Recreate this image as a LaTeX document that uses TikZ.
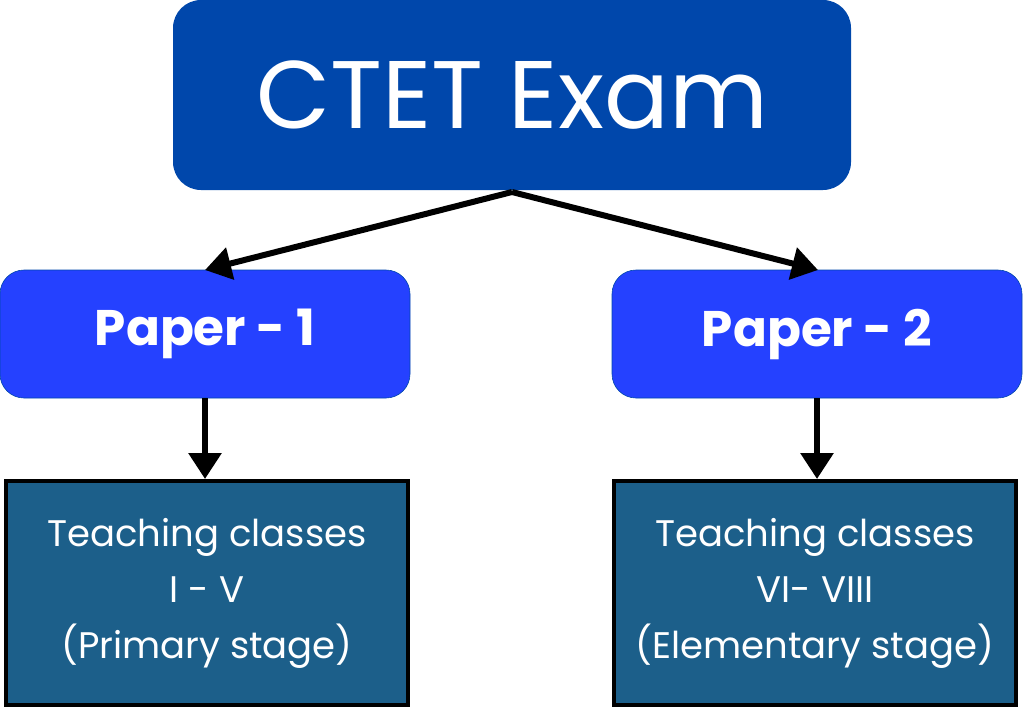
\documentclass[tikz,border=0pt]{standalone}
\usepackage{fontspec}
\setmainfont{Poppins}
\usetikzlibrary{arrows.meta,positioning}
\definecolor{examblue}{HTML}{0047AB}
\definecolor{paperblue}{HTML}{2541FF}
\definecolor{stageblue}{HTML}{1C5F8A}
\tikzset{
  exam/.style={fill=examblue, rounded corners=28pt, minimum width=678pt, minimum height=190pt, text=white, font=\fontsize{96}{110}\selectfont},
  paper/.style={fill=paperblue, draw=examblue, line width=0.6pt, rounded corners=24pt, minimum width=410pt, minimum height=128pt, text=white, font=\fontsize{50}{60}\selectfont\bfseries},
  stage/.style={fill=stageblue, draw=black, line width=4pt, minimum width=402pt, minimum height=224pt, text=white, align=center, font=\fontsize{37}{56}\selectfont},
  link/.style={line width=6pt, -{Triangle[length=26pt,width=32pt]}}
}
\begin{document}
\begin{tikzpicture}[x=1pt, y=-1pt]
	\useasboundingbox (0, 0) rectangle (1024, 709);
	\node[exam] (exam) at (512, 95) {CTET Exam};
	\node[paper] (p1) at (205, 334) {Paper - 1};
	\node[paper] (p2) at (817, 334) {Paper - 2};
	\node[stage] (s1) at (207, 593) {Teaching classes\\I - V\\(Primary stage)};
	\node[stage] (s2) at (815, 593) {Teaching classes\\VI- VIII\\(Elementary stage)};
	\coordinate (fork) at (512, 192);

	\draw[link] (fork) -- (205, 270);
	\draw[link] (fork) -- (818, 270);
	\draw[link] (p1.south) -- (s1.north -| p1.south);
	\draw[link] (p2.south) -- (s2.north -| p2.south);
\end{tikzpicture}
\end{document}
